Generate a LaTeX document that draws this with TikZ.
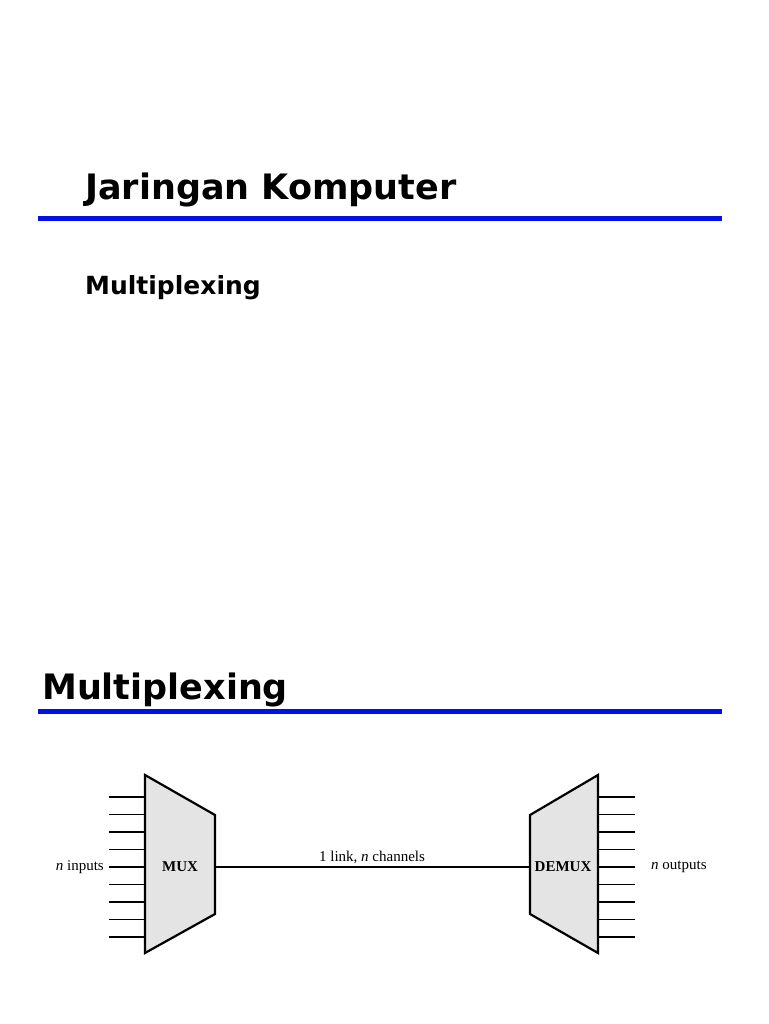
\documentclass[tikz,border=0pt]{standalone}
\usepackage{fontspec}
\setmainfont{Liberation Serif}
\newfontfamily\hsans{DejaVu Sans}
\definecolor{rule}{RGB}{0,16,230}
\definecolor{boxg}{RGB}{228,228,228}
\begin{document}
\begin{tikzpicture}[x=1pt,y=-1pt,
  blu/.style={rule,line width=5pt},
  ttl/.style={anchor=base west,inner sep=0,font=\hsans\bfseries\fontsize{35}{40}\selectfont},
  sub/.style={anchor=base west,inner sep=0,font=\hsans\bfseries\fontsize{25}{30}\selectfont},
  box/.style={draw,line width=2.2pt,fill=boxg,line join=miter},
  lbl/.style={inner sep=0,font=\fontsize{15}{17}\selectfont},
  wire/.style={line width=1.4pt}]
\useasboundingbox (0,0) rectangle (768,1024);
\node[ttl] (t1) at (85,200) {Jaringan Komputer};
\draw[blu] (38,219) -- (722,219);
\node[sub] (s1) at (85,294) {Multiplexing};
\node[ttl] (t2) at (42,699) {Multiplexing};
\draw[blu] (38,711) -- (722,711);
\draw[box] (145,775) -- (215,815) -- (215,914) -- (145,953) -- cycle;
\draw[box] (598,775) -- (530,815) -- (530,914) -- (598,953) -- cycle;
\node[lbl,font=\bfseries\fontsize{15}{17}\selectfont] (mux) at (180,867) {MUX};
\node[lbl,font=\bfseries\fontsize{15}{17}\selectfont] (demux) at (563,867) {DEMUX};
\foreach \i in {0,...,8}{
  \draw[wire] (109,797+17.5*\i) -- (145,797+17.5*\i);
  \draw[wire] (598,797+17.5*\i) -- (635,797+17.5*\i);}
\draw[wire] (215,867) -- (530,867);
\node[lbl] (lk) at (372,857) {1 link, \textit{n} channels};
\node[lbl,anchor=east] (in) at (104,867) {\textit{n} inputs};
\node[lbl,anchor=west] (out) at (651,867) {\textit{n} outputs};
\end{tikzpicture}
\end{document}
